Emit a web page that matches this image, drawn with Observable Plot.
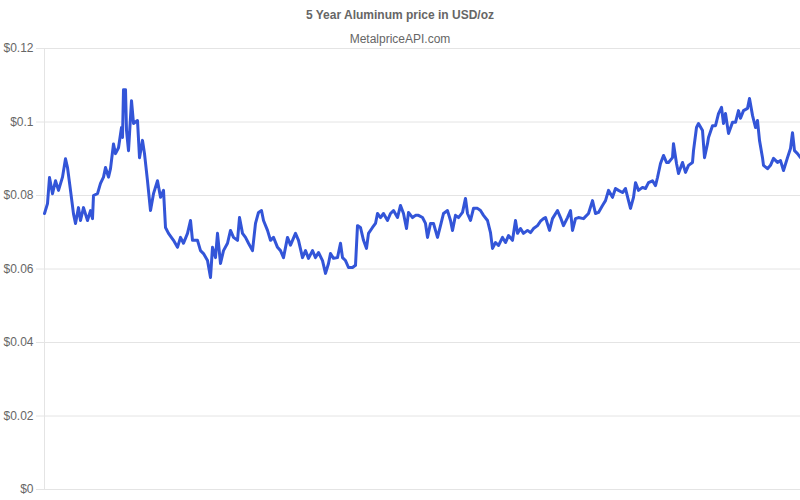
<!DOCTYPE html>
<html>
<head>
<meta charset="utf-8">
<script src="https://cdn.jsdelivr.net/npm/d3@7"></script>
<script src="https://cdn.jsdelivr.net/npm/@observablehq/plot@0.6"></script>
<style>
  html, body { margin: 0; padding: 0; background: #fff; }
  body { position: relative; width: 800px; height: 500px; overflow: hidden; font-family: "Liberation Sans", Arial, Helvetica, sans-serif; }
  #chart { position: absolute; top: 30px; left: 0; }
  .title { position: absolute; top: 8px; left: 0; width: 800px; text-align: center; font-size: 12px; font-weight: bold; color: #666; }
  .subtitle { position: absolute; top: 32px; left: 0; width: 800px; text-align: center; font-size: 12px; color: #666; }
</style>
</head>
<body>
<div id="chart"></div>
<div class="title">5 Year Aluminum price in USD/oz</div>
<div class="subtitle">MetalpriceAPI.com</div>
<script>
const yTicks = [0, 0.02, 0.04, 0.06, 0.08, 0.1, 0.12];
const yTickLabels = ["$0", "$0.02", "$0.04", "$0.06", "$0.08", "$0.1", "$0.12"];

// [step (sample position across the 5-year span), price USD/oz]
const firstPeriod = [
  [0,.0751],[3,.0778],[5,.0849],[8,.0805],[11,.084],[14,.0814],[18,.085],[21,.090],[23,.0876],[26,.0814],
  [29,.075],[31,.0724],[34,.0767],[36,.0732],[39,.0767],[43,.0732],[46,.0759],[48,.0737],[49,.080],[53,.0805],
  [56,.0833],[59,.085],[61,.0876],[64,.085],[66,.0873],[69,.094],[71,.0914],[74,.093],[77,.0985],[78,.0958],
  [79,.1088],[81,.1088],[82,.0977],[84,.0922],[87,.1058],[89,.0996],[93,.1004],[95,.0903],[98,.095],[100,.0914],
  [103,.084],[106,.0759],[109,.0805],[113,.084],[116,.0795],[119,.0814],[121,.0713],[124,.0697],[129,.0678],[133,.0659],
  [136,.0686],[139,.067],[143,.0697],[146,.0732],[148,.0678],[153,.0678],[156,.065],[159,.0642],[163,.0623],[166,.0577],
  [168,.0659],[171,.0631],[173,.0697],[176,.0615],[179,.065],[183,.067],[186,.0705],[189,.0686],[193,.0678],[195,.074],
  [198,.0697],[201,.0686],[204,.067],[208,.065],[211,.0724],[214,.0754],[217,.0759],[219,.0732],[223,.0705],[226,.0678],
  [229,.0686],[233,.0659],[236,.065],[239,.0631],[243,.0686],[246,.0665]
];
const secondPeriod = [
  [251,.0697],[254,.0678],[258,.0631],[261,.065],[264,.0629],[268,.065],[271,.0631],[274,.0645],[278,.0623],[281,.0588],
  [284,.0615],[286,.0642],[289,.0629],[293,.0631],[296,.067],[298,.0631],[301,.0623],[304,.0604],[308,.0604],[311,.061],
  [313,.0718],[316,.0713],[319,.0678],[322,.0656],[324,.0697],[328,.0713],[331,.0724],[333,.0751],[336,.074],[339,.0751],
  [343,.0732],[346,.0751],[349,.0759],[353,.074],[356,.0773],[359,.0751],[362,.071],[364,.0754],[368,.074],[371,.0746],
  [374,.0746],[378,.074],[381,.0724],[383,.0686],[386,.0724],[389,.0724],[393,.0686],[396,.0718],[399,.0751],[403,.0759],
  [406,.0732],[408,.0705],[411,.0746],[414,.074],[418,.0754],[421,.0792],[423,.0751],[426,.0732],[429,.0765],[433,.0765],
  [436,.0759],[439,.0746],[443,.0732],[446,.0699],[448,.0656],[451,.0672],[454,.0664],[458,.0686],[461,.0672],[464,.0691],
  [468,.0678],[471,.0732],[473,.0697],[476,.071],[479,.0697],[483,.0705],[486,.0699],[489,.071],[493,.0718],[496,.073],
  [499,.0737]
];
const thirdPeriod = [
  [501,.074],[505,.0705],[508,.0737],[513,.0759],[516,.074],[519,.0718],[523,.074],[526,.0759],[528,.0705],[531,.0737],
  [534,.074],[539,.0737],[544,.0751],[548,.0786],[551,.0751],[554,.0754],[558,.0773],[561,.0786],[564,.0814],[568,.0795],
  [571,.0819],[574,.0814],[578,.0808],[581,.0819],[584,.0786],[586,.0765],[589,.0795],[591,.0835],[594,.0814],[598,.0822],
  [601,.0819],[604,.0835],[608,.084],[611,.0827],[613,.0849],[616,.0887],[619,.0909],[622,.089],[624,.089],[628,.0903],
  [629,.0941],[632,.0887],[634,.086],[638,.089],[641,.0863],[644,.0882],[648,.089],[649,.0922],[652,.0985],[654,.0996],
  [658,.0977],[660,.0903],[663,.0941],[664,.0958],[668,.099],[671,.099],[674,.1023],[677,.104],[679,.0996],[681,.1023],
  [684,.0969],[688,.0999],[691,.0999],[694,.1031],[696,.101],[699,.1031],[703,.1037],[705,.1064],[708,.1018],[711,.0985],
  [713,.1004],[715,.095],[718,.0903],[719,.0882],[723,.0873],[726,.0882],[729,.0901],[733,.089],[736,.0895],[739,.0868],
  [743,.0903],[746,.0928],[748,.0971],[750,.0922],[753,.0914],[756,.0903]
];

const data = [...firstPeriod, ...secondPeriod, ...thirdPeriod].map(([step, price]) => ({step, price}));

const chart = Plot.plot({
  width: 800,
  height: 470,
  marginLeft: 44,
  marginRight: 0,
  marginTop: 18,
  marginBottom: 11,
  style: {fontFamily: '"Liberation Sans", Arial, sans-serif', fontSize: "12px", color: "#666", background: "transparent"},
  x: {domain: [0, 756], axis: null},
  y: {domain: [0, 0.12]},
  marks: [
    Plot.gridY(yTicks, {stroke: "#e4e4e4", strokeOpacity: 1}),
    Plot.axisY(yTicks, {
      tickSize: 8,
      tickPadding: 3,
      stroke: "#e4e4e4",
      fill: "#666",
      fontSize: 12,
      tickFormat: (d) => yTickLabels[yTicks.indexOf(d)],
      label: null
    }),
    Plot.ruleX([0], {stroke: "#e4e4e4"}),
    Plot.lineY(data, {x: "step", y: "price", stroke: "#3355d8", strokeWidth: 3, strokeLinejoin: "round"})
  ]
});
document.getElementById("chart").appendChild(chart);
</script>
</body>
</html>
